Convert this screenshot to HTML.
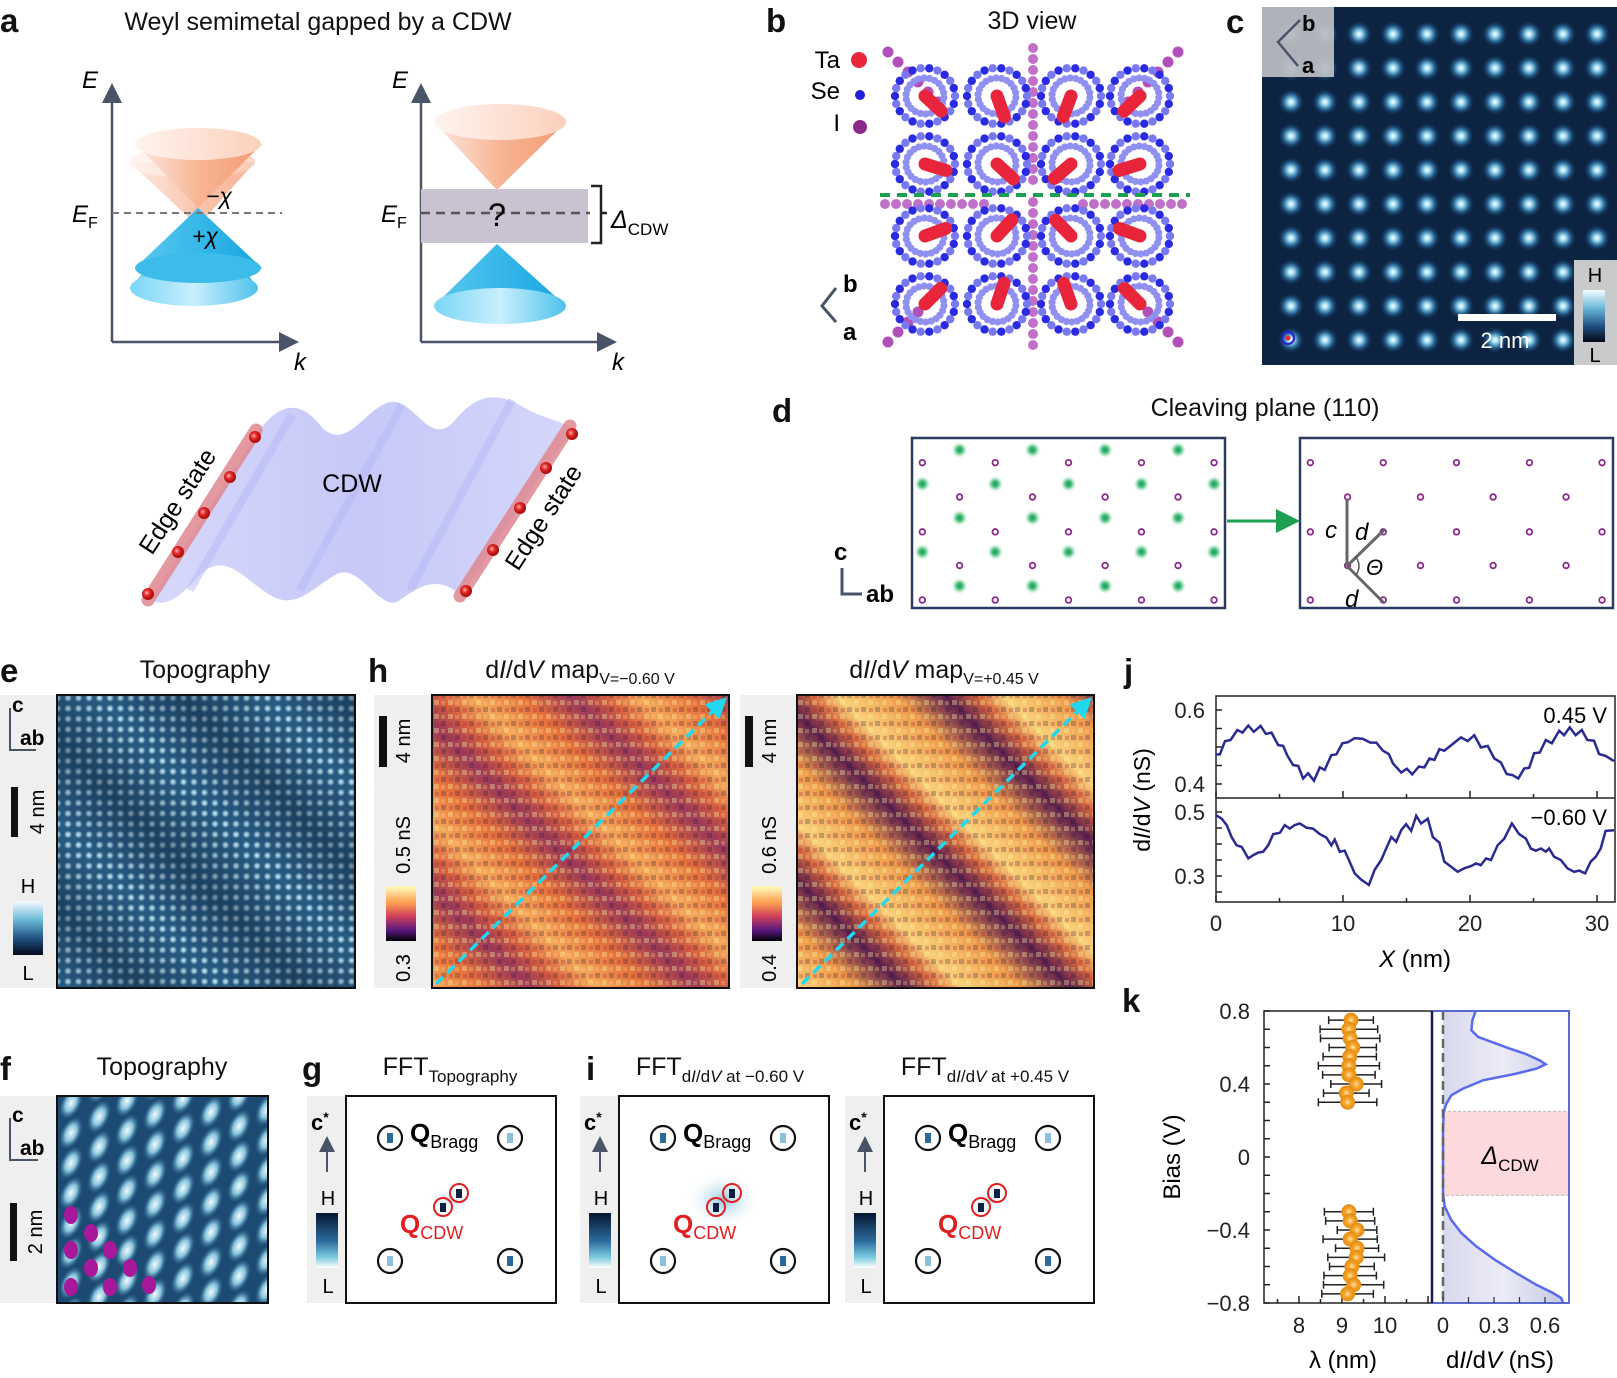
<!DOCTYPE html>
<html><head><meta charset="utf-8"><style>
html,body{margin:0;padding:0;background:#fff;}
svg{display:block;font-family:"Liberation Sans",sans-serif;}
.lt{font-weight:bold;font-size:33px;fill:#111;}
.tt{font-size:25px;fill:#111;}
.tk{font-size:22px;fill:#222;}
</style></head><body>
<svg id="fig" width="1617" height="1378" viewBox="0 0 1617 1378" xmlns="http://www.w3.org/2000/svg">
<defs>
<linearGradient id="orC" x1="0" x2="1"><stop offset="0" stop-color="#fde8e0"/><stop offset="0.5" stop-color="#f7b595"/><stop offset="1" stop-color="#f49a73"/></linearGradient>
<linearGradient id="orTop" x1="0" x2="1"><stop offset="0" stop-color="#fff4ef"/><stop offset="1" stop-color="#fbd0bb"/></linearGradient>
<linearGradient id="blC" x1="0" x2="1"><stop offset="0" stop-color="#5cc8ee"/><stop offset="0.6" stop-color="#2fb4e6"/><stop offset="1" stop-color="#1aa4dc"/></linearGradient>
<linearGradient id="blB" x1="0" x2="1"><stop offset="0" stop-color="#7ad6f5"/><stop offset="0.5" stop-color="#c8effd"/><stop offset="1" stop-color="#4ec2ec"/></linearGradient>
<linearGradient id="sheet" x1="0" x2="1" y1="0" y2="0"><stop offset="0" stop-color="#d4d6fb"/><stop offset="0.5" stop-color="#c3c6f7"/><stop offset="1" stop-color="#d2d4fb"/></linearGradient>
<radialGradient id="spotC"><stop offset="0" stop-color="#ffffff"/><stop offset="0.2" stop-color="#a8e0f5"/><stop offset="0.55" stop-color="#2a6a98"/><stop offset="1" stop-color="#0c2444" stop-opacity="0"/></radialGradient>
<radialGradient id="ball"><stop offset="0" stop-color="#ffe2b0"/><stop offset="0.45" stop-color="#f7a52a"/><stop offset="1" stop-color="#e08a10"/></radialGradient>
<radialGradient id="redball" cx="0.4" cy="0.4"><stop offset="0" stop-color="#ffb0b0"/><stop offset="0.5" stop-color="#e52a2a"/><stop offset="1" stop-color="#b01010"/></radialGradient>
<radialGradient id="greenDot"><stop offset="0" stop-color="#1a9a5a"/><stop offset="0.4" stop-color="#4cc080"/><stop offset="1" stop-color="#bfeccf" stop-opacity="0"/></radialGradient>
<radialGradient id="eSpot"><stop offset="0" stop-color="#f0fbff"/><stop offset="0.5" stop-color="#9fd2ea" stop-opacity="0.8"/><stop offset="1" stop-color="#2d6a90" stop-opacity="0"/></radialGradient>
<pattern id="ePat" width="10.5" height="10.5" patternUnits="userSpaceOnUse"><rect width="10.5" height="10.5" fill="#2a5f86"/><circle cx="5" cy="5" r="4.6" fill="url(#eSpot)"/></pattern>
<linearGradient id="eBands" gradientUnits="userSpaceOnUse" x1="57" y1="988" x2="140" y2="905" spreadMethod="repeat"><stop offset="0" stop-color="#0a1a30" stop-opacity="0.05"/><stop offset="0.5" stop-color="#0a1a30" stop-opacity="0.45"/><stop offset="1" stop-color="#0a1a30" stop-opacity="0.05"/></linearGradient>
<linearGradient id="h1Bands" gradientUnits="userSpaceOnUse" x1="432" y1="988" x2="515" y2="905" spreadMethod="repeat"><stop offset="0" stop-color="#f4a85a"/><stop offset="0.3" stop-color="#e5713c"/><stop offset="0.6" stop-color="#9a3a5a"/><stop offset="0.8" stop-color="#d86040"/><stop offset="1" stop-color="#f4a85a"/></linearGradient>
<linearGradient id="h2Bands" gradientUnits="userSpaceOnUse" x1="797" y1="988" x2="880" y2="905" spreadMethod="repeat"><stop offset="0" stop-color="#f9d07a"/><stop offset="0.35" stop-color="#ee9a4a"/><stop offset="0.65" stop-color="#5a2050"/><stop offset="0.85" stop-color="#d86a40"/><stop offset="1" stop-color="#f9d07a"/></linearGradient>
<pattern id="noise" width="14" height="14" patternUnits="userSpaceOnUse"><rect x="0" y="0" width="5" height="5" fill="#fff3a0" opacity="0.35"/><rect x="7" y="7" width="5" height="5" fill="#2a0a3a" opacity="0.25"/><rect x="7" y="1" width="4" height="4" fill="#ffd27a" opacity="0.3"/><rect x="1" y="8" width="4" height="4" fill="#a03040" opacity="0.3"/></pattern>
<linearGradient id="cbHL" x1="0" y1="0" x2="0" y2="1"><stop offset="0" stop-color="#f4fbff"/><stop offset="0.35" stop-color="#6ab8d8"/><stop offset="0.7" stop-color="#1f4f80"/><stop offset="1" stop-color="#050a18"/></linearGradient>
<linearGradient id="cbInf" x1="0" y1="0" x2="0" y2="1"><stop offset="0" stop-color="#fcfdbf"/><stop offset="0.3" stop-color="#fca050"/><stop offset="0.55" stop-color="#d0405a"/><stop offset="0.8" stop-color="#5a1880"/><stop offset="1" stop-color="#000004"/></linearGradient>
<linearGradient id="cbFFT" x1="0" y1="0" x2="0" y2="1"><stop offset="0" stop-color="#051530"/><stop offset="0.5" stop-color="#2a6a9a"/><stop offset="0.8" stop-color="#7ac8e0"/><stop offset="1" stop-color="#ffffff"/></linearGradient>
<radialGradient id="fBlob"><stop offset="0" stop-color="#f4fbff"/><stop offset="0.5" stop-color="#88c4dc"/><stop offset="1" stop-color="#2c6f98" stop-opacity="0"/></radialGradient>
<pattern id="fPat" width="28" height="30" patternUnits="userSpaceOnUse" patternTransform="translate(57,1096) skewY(-30)"><rect width="28" height="30" fill="#1d4a72"/><ellipse cx="14" cy="15" rx="12" ry="15" fill="url(#fBlob)"/></pattern>
<linearGradient id="kFill" x1="0" x2="1"><stop offset="0" stop-color="#d8d8ee"/><stop offset="0.5" stop-color="#ececf6"/><stop offset="1" stop-color="#c4c8e4"/></linearGradient>
<radialGradient id="fftHalo"><stop offset="0" stop-color="#7ab8d8" stop-opacity="0.8"/><stop offset="1" stop-color="#ffffff" stop-opacity="0"/></radialGradient>
<marker id="arr" markerWidth="8" markerHeight="8" refX="6" refY="4" orient="auto"><path d="M0,0 L8,4 L0,8 Z" fill="#4a5468"/></marker>
<marker id="arrG" markerWidth="8" markerHeight="8" refX="6" refY="4" orient="auto"><path d="M0,0 L8,4 L0,8 Z" fill="#1aa050"/></marker>
<marker id="arrC" markerWidth="6" markerHeight="6" refX="4" refY="3" orient="auto"><path d="M0,0 L6,3 L0,6 Z" fill="#22d8f0"/></marker>
<clipPath id="jTopClip"><rect x="1216" y="696" width="400" height="102"/></clipPath>
<clipPath id="jBotClip"><rect x="1216" y="798" width="400" height="104"/></clipPath>
<clipPath id="cClip"><rect x="1262" y="7" width="355" height="358"/></clipPath>
<clipPath id="bClip"><rect x="870" y="42" width="325" height="312"/></clipPath>
</defs>

<!-- ===== Panel a ===== -->
<g>
<text class="lt" x="0" y="32">a</text>
<text class="tt" x="318" y="30" text-anchor="middle">Weyl semimetal gapped by a CDW</text>
<g>
<line x1="112" y1="342" x2="112" y2="88" stroke="#4a5468" stroke-width="2.5" marker-end="url(#arr)"/>
<line x1="112" y1="342" x2="294" y2="342" stroke="#4a5468" stroke-width="2.5" marker-end="url(#arr)"/>
<text x="82" y="88" font-size="24" font-style="italic">E</text>
<text x="294" y="370" font-size="24" font-style="italic">k</text>
<text x="72" y="222" font-size="24" font-style="italic">E<tspan font-size="16" font-style="normal" dy="6">F</tspan></text>
<path d="M129,162 L198,226 L255,162 Z" fill="url(#orC)" opacity="0.75"/>
<ellipse cx="192" cy="162" rx="63" ry="16" fill="url(#orTop)" opacity="0.8"/>
<path d="M136,144 L198,208 L262,144 Z" fill="url(#orC)"/>
<ellipse cx="198" cy="144" rx="63" ry="16" fill="url(#orTop)"/>
<path d="M130,288 L198,208 L258,288 Z" fill="url(#blC)" opacity="0.8"/>
<ellipse cx="194" cy="288" rx="64" ry="18" fill="url(#blB)"/>
<path d="M135,268 L198,208 L262,268 Z" fill="url(#blC)"/>
<ellipse cx="198" cy="268" rx="63" ry="15" fill="#3cbce9"/>
<line x1="112" y1="213" x2="282" y2="213" stroke="#777" stroke-width="2" stroke-dasharray="7,5"/>
<text x="206" y="204" font-size="23" font-style="italic">−χ</text>
<text x="192" y="244" font-size="23" font-style="italic">+χ</text>
</g>
<g>
<line x1="421" y1="342" x2="421" y2="88" stroke="#4a5468" stroke-width="2.5" marker-end="url(#arr)"/>
<line x1="421" y1="342" x2="612" y2="342" stroke="#4a5468" stroke-width="2.5" marker-end="url(#arr)"/>
<text x="392" y="88" font-size="24" font-style="italic">E</text>
<text x="612" y="370" font-size="24" font-style="italic">k</text>
<text x="381" y="222" font-size="24" font-style="italic">E<tspan font-size="16" font-style="normal" dy="6">F</tspan></text>
<path d="M434,122 L497,190 L566,122 Z" fill="url(#orC)"/>
<ellipse cx="500" cy="122" rx="66" ry="18" fill="url(#orTop)"/>
<rect x="421" y="189" width="167" height="54" fill="#c9c2d0"/>
<line x1="421" y1="213" x2="590" y2="213" stroke="#555" stroke-width="2.5" stroke-dasharray="9,6"/>
<text x="497" y="226" font-size="32" text-anchor="middle">?</text>
<path d="M434,306 L497,244 L566,306 Z" fill="url(#blC)"/>
<ellipse cx="500" cy="306" rx="66" ry="18" fill="url(#blB)"/>
<path d="M591,186 L601,186 L601,243 L591,243 M601,213 L607,213" fill="none" stroke="#222" stroke-width="2.5"/>
<text x="611" y="228" font-size="25" font-style="italic">Δ<tspan font-size="17" font-style="normal" dy="7">CDW</tspan></text>
</g>
<g>
<path d="M150,600 L258,432 C280,402 300,400 320,425 C345,455 365,408 390,402 C415,398 430,450 455,420 C480,390 500,395 520,405 C540,418 555,418 572,428 L461,596 C440,575 420,585 400,600 C380,615 360,560 335,575 C310,590 295,610 270,595 C245,580 225,550 200,575 C185,590 170,610 150,600 Z" fill="url(#sheet)" opacity="0.95"/>
<path d="M292,415 L190,590 M402,405 L300,590 M512,400 L410,590" stroke="#b4b8f4" stroke-width="8" opacity="0.5" fill="none"/>
<line x1="148" y1="600" x2="256" y2="430" stroke="#e08890" stroke-width="13" stroke-linecap="round" opacity="0.85"/>
<line x1="460" y1="596" x2="570" y2="426" stroke="#e08890" stroke-width="13" stroke-linecap="round" opacity="0.85"/>
<g fill="url(#redball)"><circle cx="148" cy="594" r="6"/><circle cx="178" cy="552" r="6"/><circle cx="204" cy="513" r="6"/><circle cx="230" cy="477" r="6"/><circle cx="255" cy="437" r="6"/><circle cx="466" cy="591" r="6"/><circle cx="493" cy="550" r="6"/><circle cx="520" cy="508" r="6"/><circle cx="546" cy="468" r="6"/><circle cx="572" cy="434" r="6"/></g>
<text x="352" y="492" font-size="25" text-anchor="middle">CDW</text>
<text transform="translate(152,556) rotate(-57)" font-size="25">Edge state</text>
<text transform="translate(518,572) rotate(-57)" font-size="25">Edge state</text>
</g>
</g>

<!-- ===== Panel b ===== -->
<g>
<text class="lt" x="766" y="32">b</text>
<text class="tt" x="1032" y="29" text-anchor="middle">3D view</text>
<g>
<text x="840" y="68" font-size="24" text-anchor="end">Ta</text><circle cx="859" cy="60" r="8" fill="#e8253a"/>
<text x="840" y="99" font-size="24" text-anchor="end">Se</text><circle cx="860" cy="95" r="5" fill="#2020d8"/>
<text x="840" y="131" font-size="24" text-anchor="end">I</text><circle cx="860" cy="127" r="7" fill="#8a2a8a"/>
</g>
<g id="crystal" clip-path="url(#bClip)"></g>
<line x1="880" y1="195" x2="1190" y2="195" stroke="#1aa050" stroke-width="4" stroke-dasharray="10,7"/>
<g>
<path d="M836,288 L822,306 L836,322" fill="none" stroke="#4a5468" stroke-width="3"/>
<text x="843" y="292" font-size="24" font-weight="bold">b</text>
<text x="843" y="340" font-size="24" font-weight="bold">a</text>
</g>
</g>

<!-- ===== Panel c ===== -->
<g>
<text class="lt" x="1226" y="33">c</text>
<rect x="1262" y="7" width="355" height="358" fill="#0d2342"/>
<g id="cSpots" clip-path="url(#cClip)"></g>
<rect x="1262" y="7" width="72" height="70" fill="#b8bcc0" opacity="0.95"/>
<path d="M1300,20 L1278,42 L1298,66" fill="none" stroke="#4a5468" stroke-width="2.5"/>
<text x="1302" y="31" font-size="22" font-weight="bold">b</text>
<text x="1302" y="73" font-size="22" font-weight="bold">a</text>
<circle cx="1288" cy="338" r="6" fill="none" stroke="#2020d8" stroke-width="2"/><circle cx="1288" cy="338" r="2.5" fill="#e8253a"/>
<rect x="1458" y="314" width="98" height="7" fill="#fff"/>
<text x="1505" y="348" font-size="22" fill="#fff" text-anchor="middle">2 nm</text>
<rect x="1574" y="260" width="43" height="105" fill="#c8cacc"/>
<text x="1595" y="282" font-size="20" text-anchor="middle">H</text>
<rect x="1583" y="290" width="22" height="52" fill="url(#cbHL)"/>
<text x="1595" y="362" font-size="20" text-anchor="middle">L</text>
</g>

<!-- ===== Panel d ===== -->
<g>
<text class="lt" x="772" y="422">d</text>
<text class="tt" x="1265" y="416" text-anchor="middle">Cleaving plane (110)</text>
<rect x="912" y="438" width="313" height="170" fill="#fff" stroke="#2a3a60" stroke-width="2.5"/>
<rect x="1300" y="438" width="313" height="170" fill="#fff" stroke="#2a3a60" stroke-width="2.5"/>
<g id="dDots"></g>
<line x1="1227" y1="521" x2="1294" y2="521" stroke="#1aa050" stroke-width="3" marker-end="url(#arrG)"/>
<path d="M1347,566 L1347,500 M1347,566 L1384,530 M1347,566 L1384,603" fill="none" stroke="#666" stroke-width="3"/>
<path d="M1356,557 Q1362,566 1356,575" fill="none" stroke="#555" stroke-width="1.5"/>
<text x="1325" y="538" font-size="24" font-style="italic">c</text>
<text x="1355" y="540" font-size="24" font-style="italic">d</text>
<text x="1366" y="575" font-size="22" font-style="italic">Θ</text>
<text x="1345" y="607" font-size="24" font-style="italic">d</text>
<g>
<path d="M842,568 L842,594 L862,594" fill="none" stroke="#4a5468" stroke-width="3"/>
<text x="834" y="560" font-size="24" font-weight="bold">c</text>
<text x="866" y="602" font-size="24" font-weight="bold">ab</text>
</g>
</g>

<!-- ===== Panel e ===== -->
<g>
<text class="lt" x="0" y="682">e</text>
<text class="tt" x="205" y="678" text-anchor="middle">Topography</text>
<rect x="0" y="695" width="57" height="293" fill="#efefef"/>
<path d="M10,708 L10,750 L36,750" fill="none" stroke="#4a5468" stroke-width="2"/>
<text x="12" y="712" font-size="21" font-weight="bold">c</text>
<text x="20" y="745" font-size="21" font-weight="bold">ab</text>
<rect x="11" y="787" width="7" height="50" fill="#111"/>
<text transform="translate(44,812) rotate(-90)" font-size="20" text-anchor="middle">4 nm</text>
<text x="28" y="893" font-size="20" text-anchor="middle">H</text>
<rect x="13" y="901" width="30" height="54" fill="url(#cbHL)"/>
<text x="28" y="980" font-size="20" text-anchor="middle">L</text>
<rect x="57" y="695" width="298" height="293" fill="url(#ePat)"/>
<rect x="57" y="695" width="298" height="293" fill="url(#eBands)"/>
<rect x="57" y="695" width="298" height="293" fill="none" stroke="#111" stroke-width="2"/>
</g>

<!-- ===== Panel h ===== -->
<g>
<text class="lt" x="368" y="682">h</text>
<text class="tt" x="580" y="678" text-anchor="middle">d<tspan font-style="italic">I</tspan>/d<tspan font-style="italic">V</tspan> map<tspan font-size="16" dy="6">V=−0.60 V</tspan></text>
<text class="tt" x="944" y="678" text-anchor="middle">d<tspan font-style="italic">I</tspan>/d<tspan font-style="italic">V</tspan> map<tspan font-size="16" dy="6">V=+0.45 V</tspan></text>
<g>
<rect x="374" y="695" width="58" height="293" fill="#efefef"/>
<rect x="379" y="716" width="8" height="51" fill="#111"/>
<text transform="translate(410,741) rotate(-90)" font-size="20" text-anchor="middle">4 nm</text>
<text transform="translate(410,845) rotate(-90)" font-size="20" text-anchor="middle">0.5 nS</text>
<rect x="386" y="886" width="30" height="55" fill="url(#cbInf)"/>
<text transform="translate(410,968) rotate(-90)" font-size="20" text-anchor="middle">0.3</text>
<rect x="432" y="695" width="297" height="293" fill="url(#h1Bands)"/>
<rect x="432" y="695" width="297" height="293" fill="url(#noise)"/>
<rect x="432" y="695" width="297" height="293" fill="none" stroke="#111" stroke-width="2"/>
<line x1="436" y1="984" x2="722" y2="702" stroke="#22d8f0" stroke-width="3.5" stroke-dasharray="10,6" marker-end="url(#arrC)"/>
</g>
<g>
<rect x="740" y="695" width="57" height="293" fill="#efefef"/>
<rect x="745" y="716" width="8" height="51" fill="#111"/>
<text transform="translate(776,741) rotate(-90)" font-size="20" text-anchor="middle">4 nm</text>
<text transform="translate(776,845) rotate(-90)" font-size="20" text-anchor="middle">0.6 nS</text>
<rect x="752" y="886" width="30" height="55" fill="url(#cbInf)"/>
<text transform="translate(776,968) rotate(-90)" font-size="20" text-anchor="middle">0.4</text>
<rect x="797" y="695" width="297" height="293" fill="url(#h2Bands)"/>
<rect x="797" y="695" width="297" height="293" fill="url(#noise)"/>
<rect x="797" y="695" width="297" height="293" fill="none" stroke="#111" stroke-width="2"/>
<line x1="802" y1="984" x2="1087" y2="702" stroke="#22d8f0" stroke-width="3.5" stroke-dasharray="10,6" marker-end="url(#arrC)"/>
</g>
</g>

<!-- ===== Panel f ===== -->
<g>
<text class="lt" x="0" y="1080">f</text>
<text class="tt" x="162" y="1075" text-anchor="middle">Topography</text>
<rect x="0" y="1096" width="57" height="207" fill="#efefef"/>
<path d="M10,1118 L10,1160 L38,1160" fill="none" stroke="#4a5468" stroke-width="2"/>
<text x="12" y="1122" font-size="21" font-weight="bold">c</text>
<text x="20" y="1155" font-size="21" font-weight="bold">ab</text>
<rect x="10" y="1203" width="7" height="58" fill="#111"/>
<text transform="translate(42,1232) rotate(-90)" font-size="20" text-anchor="middle">2 nm</text>
<rect x="57" y="1096" width="211" height="207" fill="url(#fPat)"/>
<g fill="#a8189a"><ellipse cx="71" cy="1215" rx="7" ry="9"/><ellipse cx="91" cy="1233" rx="7" ry="9"/><ellipse cx="71" cy="1250" rx="7" ry="9"/><ellipse cx="110" cy="1250" rx="7" ry="9"/><ellipse cx="91" cy="1268" rx="7" ry="9"/><ellipse cx="130" cy="1268" rx="7" ry="9"/><ellipse cx="71" cy="1287" rx="7" ry="9"/><ellipse cx="110" cy="1287" rx="7" ry="9"/><ellipse cx="149" cy="1285" rx="7" ry="9"/></g>
<rect x="57" y="1096" width="211" height="207" fill="none" stroke="#111" stroke-width="2"/>
</g>

<!-- ===== Panels g, i ===== -->
<text class="lt" x="302" y="1080">g</text>
<text class="tt" x="450" y="1075" text-anchor="middle">FFT<tspan font-size="17" dy="7">Topography</tspan></text>
<text class="lt" x="586" y="1080">i</text>
<text class="tt" x="720" y="1075" text-anchor="middle">FFT<tspan font-size="17" dy="7">d<tspan font-style="italic">I</tspan>/d<tspan font-style="italic">V</tspan> at −0.60 V</tspan></text>
<text class="tt" x="985" y="1075" text-anchor="middle">FFT<tspan font-size="17" dy="7">d<tspan font-style="italic">I</tspan>/d<tspan font-style="italic">V</tspan> at +0.45 V</tspan></text>
<g id="fftPanels"></g>

<!-- ===== Panel j ===== -->
<g id="panelJ">
<text class="lt" x="1124" y="682">j</text>
<rect x="1216" y="696" width="399" height="206" fill="none" stroke="#222" stroke-width="1.5"/>
<line x1="1216" y1="798" x2="1615" y2="798" stroke="#222" stroke-width="1.5"/>
<text x="1607" y="723" font-size="22" text-anchor="end">0.45 V</text>
<text x="1607" y="825" font-size="22" text-anchor="end">−0.60 V</text>
<text transform="translate(1150,800) rotate(-90)" font-size="23" text-anchor="middle">d<tspan font-style="italic">I</tspan>/d<tspan font-style="italic">V</tspan> (nS)</text>
<text x="1415" y="967" font-size="24" text-anchor="middle"><tspan font-style="italic">X</tspan> (nm)</text>
</g>

<!-- ===== Panel k ===== -->
<g id="panelK">
<text class="lt" x="1122" y="1012">k</text>
<text transform="translate(1180,1157) rotate(-90)" font-size="24" text-anchor="middle">Bias (V)</text>
<text x="1343" y="1368" font-size="24" text-anchor="middle">λ (nm)</text>
<text x="1500" y="1368" font-size="24" text-anchor="middle">d<tspan font-style="italic">I</tspan>/d<tspan font-style="italic">V</tspan> (nS)</text>
</g>
</svg>

<script>
// ---------- chart data (panel j) ----------
const jTopX = [0,.31,.71,1.15,1.68,2.09,2.54,2.98,3.51,3.93,4.37,4.90,5.29,5.60,6.07,6.47,6.86,7.25,7.72,8.17,8.56,9.08,9.48,9.95,10.39,10.92,11.57,12.15,12.62,13.14,13.61,13.93,14.58,15.03,15.45,15.97,16.41,16.81,17.20,17.59,17.98,18.64,19.29,19.82,20.34,20.86,21.39,21.91,22.43,22.88,23.35,23.80,24.27,24.66,25.05,25.50,25.97,26.44,27.02,27.41,27.85,28.32,28.80,29.24,29.76,30.16,30.68,31.34];
const jTopY = [.480,.480,.516,.519,.546,.539,.558,.541,.557,.535,.539,.505,.503,.478,.451,.449,.415,.429,.409,.445,.438,.478,.480,.510,.513,.524,.522,.512,.512,.490,.481,.456,.431,.441,.426,.447,.445,.469,.465,.494,.490,.508,.526,.516,.532,.499,.503,.469,.458,.427,.424,.415,.442,.444,.483,.485,.519,.510,.544,.532,.553,.532,.546,.519,.517,.481,.476,.462];
const jBotX = [0,.45,.84,1.23,1.62,2.02,2.54,2.93,3.32,3.72,4.11,4.50,5.03,5.42,5.81,6.20,6.60,7.12,7.64,8.17,8.69,9.08,9.35,9.74,10.13,10.52,10.92,11.44,12.04,12.49,13.01,13.40,13.80,14.19,14.58,14.97,15.37,15.76,16.15,16.68,17.07,17.59,17.98,18.51,19.03,19.55,20.08,20.47,20.86,21.26,21.65,22.17,22.70,23.30,23.87,24.40,24.79,25.18,25.58,25.97,26.23,26.62,27.15,27.67,28.19,28.59,29.06,29.50,29.90,30.29,30.68,31.34];
const jBotY = [.490,.479,.459,.422,.396,.391,.355,.365,.373,.376,.396,.431,.435,.459,.448,.459,.464,.451,.448,.431,.420,.396,.414,.376,.379,.345,.308,.288,.272,.319,.350,.386,.422,.407,.443,.462,.441,.488,.464,.479,.422,.404,.345,.329,.313,.324,.331,.339,.334,.355,.350,.396,.417,.464,.431,.417,.386,.379,.386,.376,.386,.360,.350,.324,.313,.317,.308,.345,.360,.386,.441,.443];
const jXTicks = [0,10,20,30];
const jTopTicks = [0.6,0.4];
const jBotTicks = [0.5,0.3];

// ---------- chart data (panel k) ----------
const kBias = [0.75,0.70,0.65,0.60,0.55,0.50,0.45,0.40,0.35,0.30,-0.30,-0.35,-0.40,-0.45,-0.50,-0.55,-0.60,-0.65,-0.70,-0.75];
const kLambda = [9.21,9.16,9.19,9.25,9.18,9.16,9.16,9.33,9.10,9.13,9.16,9.19,9.35,9.19,9.35,9.33,9.23,9.19,9.27,9.13];
const kErr = [0.52,0.67,0.69,0.55,0.62,0.71,0.61,0.59,0.53,0.68,0.57,0.57,0.46,0.63,0.50,0.66,0.52,0.61,0.70,0.60];
const kCurveBias = [0.8,0.749,0.694,0.658,0.631,0.594,0.567,0.530,0.508,0.484,0.457,0.420,0.375,0.338,0.292,0.247,0.148,-0.035,-0.199,-0.272,-0.345,-0.417,-0.490,-0.563,-0.636,-0.700,-0.745,-0.773,-0.800];
const kCurveVal = [0.192,0.173,0.167,0.206,0.284,0.392,0.480,0.569,0.604,0.549,0.431,0.235,0.118,0.049,0.020,0.004,0,0,0,0.010,0.049,0.108,0.196,0.304,0.431,0.549,0.647,0.696,0.706];
const kGap = [0.25,-0.21];
const kBiasTicks = [0.8,0.4,0,-0.4,-0.8];
const kLambdaTicks = [8,9,10];
const kDidvTicks = [0,0.3,0.6];

const NS = "http://www.w3.org/2000/svg";
function mk(tag, attrs, parent){const e=document.createElementNS(NS,tag);for(const k in attrs)e.setAttribute(k,attrs[k]);parent.appendChild(e);return e;}
function fmt(v){return v<0?"−"+Math.abs(v):String(v);}

// ---- panel j ----
const J = document.getElementById('panelJ');
function jx(v){return 1216+v*12.7;}
function jyT(v){return 710+(0.6-v)*370;}
function jyB(v){return 812+(0.5-v)*320;}
for(let t=0;t<=30;t+=5){
  const tk=mk('line',{x1:jx(t),x2:jx(t),y1:902,y2:t%10===0?895:898,stroke:'#222','stroke-width':1.5},J);
  
  
  const tk2=mk('line',{x1:jx(t),x2:jx(t),y1:798,y2:t%10===0?791:794,stroke:'#222','stroke-width':1.5},J);
  
  
}
jXTicks.forEach(t=>{const e=mk('text',{x:jx(t),y:931,'text-anchor':'middle','class':'tk'},J);e.textContent=t;
  
  });
for(let v=0.4;v<=0.6001;v+=0.05){mk('line',{x1:1216,x2:1222,y1:jyT(v),y2:jyT(v),stroke:'#222','stroke-width':1.5},J);}
for(let v=0.25;v<=0.5001;v+=0.05){mk('line',{x1:1216,x2:1222,y1:jyB(v),y2:jyB(v),stroke:'#222','stroke-width':1.5},J);}
jTopTicks.forEach(t=>{const e=mk('text',{x:1205,y:jyT(t)+8,'text-anchor':'end','class':'tk'},J);e.textContent=t;
  
  });
jBotTicks.forEach(t=>{const e=mk('text',{x:1205,y:jyB(t)+8,'text-anchor':'end','class':'tk'},J);e.textContent=t;
  
  });
const pT=mk('path',{d:jTopX.map((x,i)=>(i?'L':'M')+jx(x).toFixed(1)+','+jyT(jTopY[i]).toFixed(1)).join(''),fill:'none',stroke:'#2a2a90','stroke-width':2.5,'clip-path':'url(#jTopClip)'},J);


const pB=mk('path',{d:jBotX.map((x,i)=>(i?'L':'M')+jx(x).toFixed(1)+','+jyB(jBotY[i]).toFixed(1)).join(''),fill:'none',stroke:'#2a2a90','stroke-width':2.5,'clip-path':'url(#jBotClip)'},J);



// ---- panel k ----
const K = document.getElementById('panelK');
function kx(l){return 1299+(l-8)*43;}
function ky(b){return 1011+(0.8-b)*182.5;}
function kx2(v){return 1443+v*170;}
mk('rect',{x:1264,y:1011,width:168,height:292,fill:'none',stroke:'#222','stroke-width':1.5},K);
for(let b=-0.8;b<=0.8001;b+=0.1){mk('line',{x1:1264,x2:1270,y1:ky(b),y2:ky(b),stroke:'#222','stroke-width':1.5},K);}
for(let l=7.5;l<=11.01;l+=0.5){mk('line',{x1:kx(l),x2:kx(l),y1:1303,y2:Number.isInteger(l)?1296:1299,stroke:'#222','stroke-width':1.5},K);}
kBiasTicks.forEach(t=>{const e=mk('text',{x:1250,y:ky(t)+8,'text-anchor':'end','class':'tk'},K);e.textContent=fmt(t);
  
  });
kLambdaTicks.forEach(t=>{const e=mk('text',{x:kx(t),y:1333,'text-anchor':'middle','class':'tk'},K);e.textContent=t;
  
  });
kDidvTicks.forEach(t=>{const e=mk('text',{x:kx2(t),y:1333,'text-anchor':'middle','class':'tk'},K);e.textContent=t;
  
  });
kBias.forEach((b,i)=>{
  const y=ky(b), x1=kx(kLambda[i]-kErr[i]), x2=kx(kLambda[i]+kErr[i]);
  const eb=mk('path',{d:`M${x1},${y}L${x2},${y}M${x1},${y-4}L${x1},${y+4}M${x2},${y-4}L${x2},${y+4}`,stroke:'#222','stroke-width':1.5,fill:'none'},K);
  
  
  const c=mk('circle',{cx:kx(kLambda[i]),cy:y,r:7.5,fill:'url(#ball)'},K);
  
  
});
const gap=mk('rect',{x:1443,y:ky(kGap[0]),width:126,height:ky(kGap[1])-ky(kGap[0]),fill:'#fdd9dc',stroke:'#bbb','stroke-dasharray':'3,2'},K);


let fd='M'+kx2(0)+','+ky(kCurveBias[0]);
kCurveBias.forEach((b,i)=>{fd+='L'+kx2(kCurveVal[i]).toFixed(1)+','+ky(b).toFixed(1);});
fd+='L'+kx2(0)+','+ky(kCurveBias[kCurveBias.length-1])+'Z';
const fillP=mk('path',{d:fd,fill:'url(#kFill)'},K);


const cp=mk('path',{d:kCurveBias.map((b,i)=>(i?'L':'M')+kx2(kCurveVal[i]).toFixed(1)+','+ky(b).toFixed(1)).join(''),fill:'none',stroke:'#5a6af0','stroke-width':2.5},K);


mk('line',{x1:kx2(0),x2:kx2(0),y1:1011,y2:1303,stroke:'#666','stroke-width':2.5,'stroke-dasharray':'9,5'},K);
mk('rect',{x:1432,y:1011,width:137,height:292,fill:'none',stroke:'#5a6acc','stroke-width':2},K);
mk('line',{x1:1432,x2:1432,y1:1011,y2:1303,stroke:'#1a1a5a','stroke-width':2.5},K);
for(let v=0;v<=0.7;v+=0.15){mk('line',{x1:kx2(v),x2:kx2(v),y1:1303,y2:1297,stroke:'#333','stroke-width':1.2},K);}
const dt=mk('text',{x:1510,y:1164,'text-anchor':'middle','font-size':25,'font-style':'italic'},K);
dt.innerHTML='Δ<tspan font-size="17" font-style="normal" dy="7">CDW</tspan>';



// ---- panel c spots (decorative lattice) ----
const CS=document.getElementById('cSpots');
for(let r=0;r<10;r++)for(let c=0;c<10;c++){
  const s=mk('circle',{cx:1291+c*34,cy:34+r*34,r:13.5,fill:'url(#spotC)'},CS);
  
  
}

// ---- panel d dots ----
const DD=document.getElementById('dDots');
function dotsBox(x0,y0,w,h,withGreen){
  const rowsP=[.145,.347,.552,.75,.953], rowsG=[.07,.27,.47,.67,.87];
  const colsA=[.033,.266,.5,.733,.965], colsB=[.152,.385,.617,.85];
  rowsP.forEach((ry,i)=>{(i%2===0?colsA:colsB).forEach(cx=>{
    const d=mk('circle',{cx:x0+cx*w,cy:y0+ry*h,r:2.8,fill:'none',stroke:'#8a2a8a','stroke-width':1.8},DD);
    
    });});
  if(withGreen) rowsG.forEach((ry,i)=>{(i%2===0?colsB:colsA).forEach(cx=>{
    const d=mk('circle',{cx:x0+cx*w,cy:y0+ry*h,r:8,fill:'url(#greenDot)'},DD);
    
    });});
}
dotsBox(912,438,313,170,true);
dotsBox(1300,438,313,170,false);

// ---- panel b crystal (decorative) ----
const CR=document.getElementById('crystal');
const ccx=[925,997,1071,1140], ccy=[96,164,236,304];
for(let y=48;y<=350;y+=11){ if(Math.abs(y-195)>6) mk('circle',{cx:1033,cy:y,r:5,fill:'#c070c8'},CR);}
for(let i=0;i<6;i++){const t=95+i*10;
  [[1,1],[1,-1],[-1,1],[-1,-1]].forEach(s=>{mk('circle',{cx:1033+s[0]*t,cy:197+s[1]*t,r:5.5,fill:'#b050b8'},CR);});}
for(let x=885;x<=1185;x+=11){ if(Math.abs(x-1033)>40) mk('circle',{cx:x,cy:204,r:5,fill:'#c070c8'},CR);}
ccy.forEach(cy=>ccx.forEach(cx=>{
  const g=mk('g',{},CR);
  
  
  for(let k=0;k<22;k++){const a=k/22*Math.PI*2;
    mk('circle',{cx:cx+Math.cos(a)*30,cy:cy+Math.sin(a)*28,r:4.2,fill:k%2?'#2a2ae0':'#7a7af0'},g);
    mk('circle',{cx:cx+Math.cos(a+0.1)*19,cy:cy+Math.sin(a+0.1)*18,r:3.6,fill:'#9090f0'},g);}
  const dx=cx-1033, dy=cy-197, L=Math.hypot(dx,dy);
  mk('line',{x1:cx,y1:cy,x2:cx-dx/L*22,y2:cy-dy/L*22,stroke:'#e8253a','stroke-width':13,'stroke-linecap':'round'},g);
}));

// ---- FFT panels g, i ----
const FP=document.getElementById('fftPanels');
[[307,346,'g',0],[580,619,'i1',1],[845,884,'i2',2]].forEach(p=>{
  const sx=p[0], ix=p[1], g=mk('g',{},FP);
  
  
  mk('rect',{x:sx,y:1096,width:ix-sx,height:207,fill:'#efefef'},g);
  const c=mk('text',{x:sx+4,y:1130,'font-size':22,'font-weight':'bold'},g); c.innerHTML='c<tspan font-size="14" dy="-8">*</tspan>';
  mk('line',{x1:sx+20,y1:1172,x2:sx+20,y2:1140,stroke:'#4a5468','stroke-width':2,'marker-end':'url(#arr)'},g);
  const h=mk('text',{x:sx+21,y:1205,'font-size':20,'text-anchor':'middle'},g); h.textContent='H';
  mk('rect',{x:sx+9,y:1213,width:22,height:55,fill:'url(#cbFFT)'},g);
  const l=mk('text',{x:sx+21,y:1293,'font-size':20,'text-anchor':'middle'},g); l.textContent='L';
  mk('rect',{x:ix,y:1096,width:210,height:207,fill:'#fff',stroke:'#111','stroke-width':2},g);
  if(p[3]===1) mk('ellipse',{cx:ix+104,cy:1200,rx:38,ry:30,fill:'url(#fftHalo)'},g);
  if(p[3]!==1) mk('ellipse',{cx:ix+104,cy:1200,rx:22,ry:16,fill:'url(#fftHalo)',opacity:0.5},g);
  [[44,42],[164,42],[44,165],[164,165]].forEach((q,j)=>{
    mk('rect',{x:ix+q[0]-3,y:1096+q[1]-5,width:6,height:10,fill:j===0||j===3?'#2a6a9a':'#8ac0dc'},g);
    mk('circle',{cx:ix+q[0],cy:1096+q[1],r:12,fill:'none',stroke:'#111','stroke-width':2.2},g);});
  [[113,97],[97,111]].forEach(q=>{
    mk('rect',{x:ix+q[0]-3,y:1096+q[1]-4,width:6,height:9,fill:'#0a2040'},g);
    mk('circle',{cx:ix+q[0],cy:1096+q[1],r:9,fill:'none',stroke:'#e02020','stroke-width':2},g);});
  const qb=mk('text',{x:ix+64,y:1142,'font-size':26,'font-weight':'bold'},g); qb.innerHTML='Q<tspan font-size="18" font-weight="normal" dy="6">Bragg</tspan>';
  const qc=mk('text',{x:ix+54,y:1233,'font-size':26,'font-weight':'bold',fill:'#e02020'},g); qc.innerHTML='Q<tspan font-size="18" font-weight="normal" dy="6">CDW</tspan>';
});
</script>
</body></html>
